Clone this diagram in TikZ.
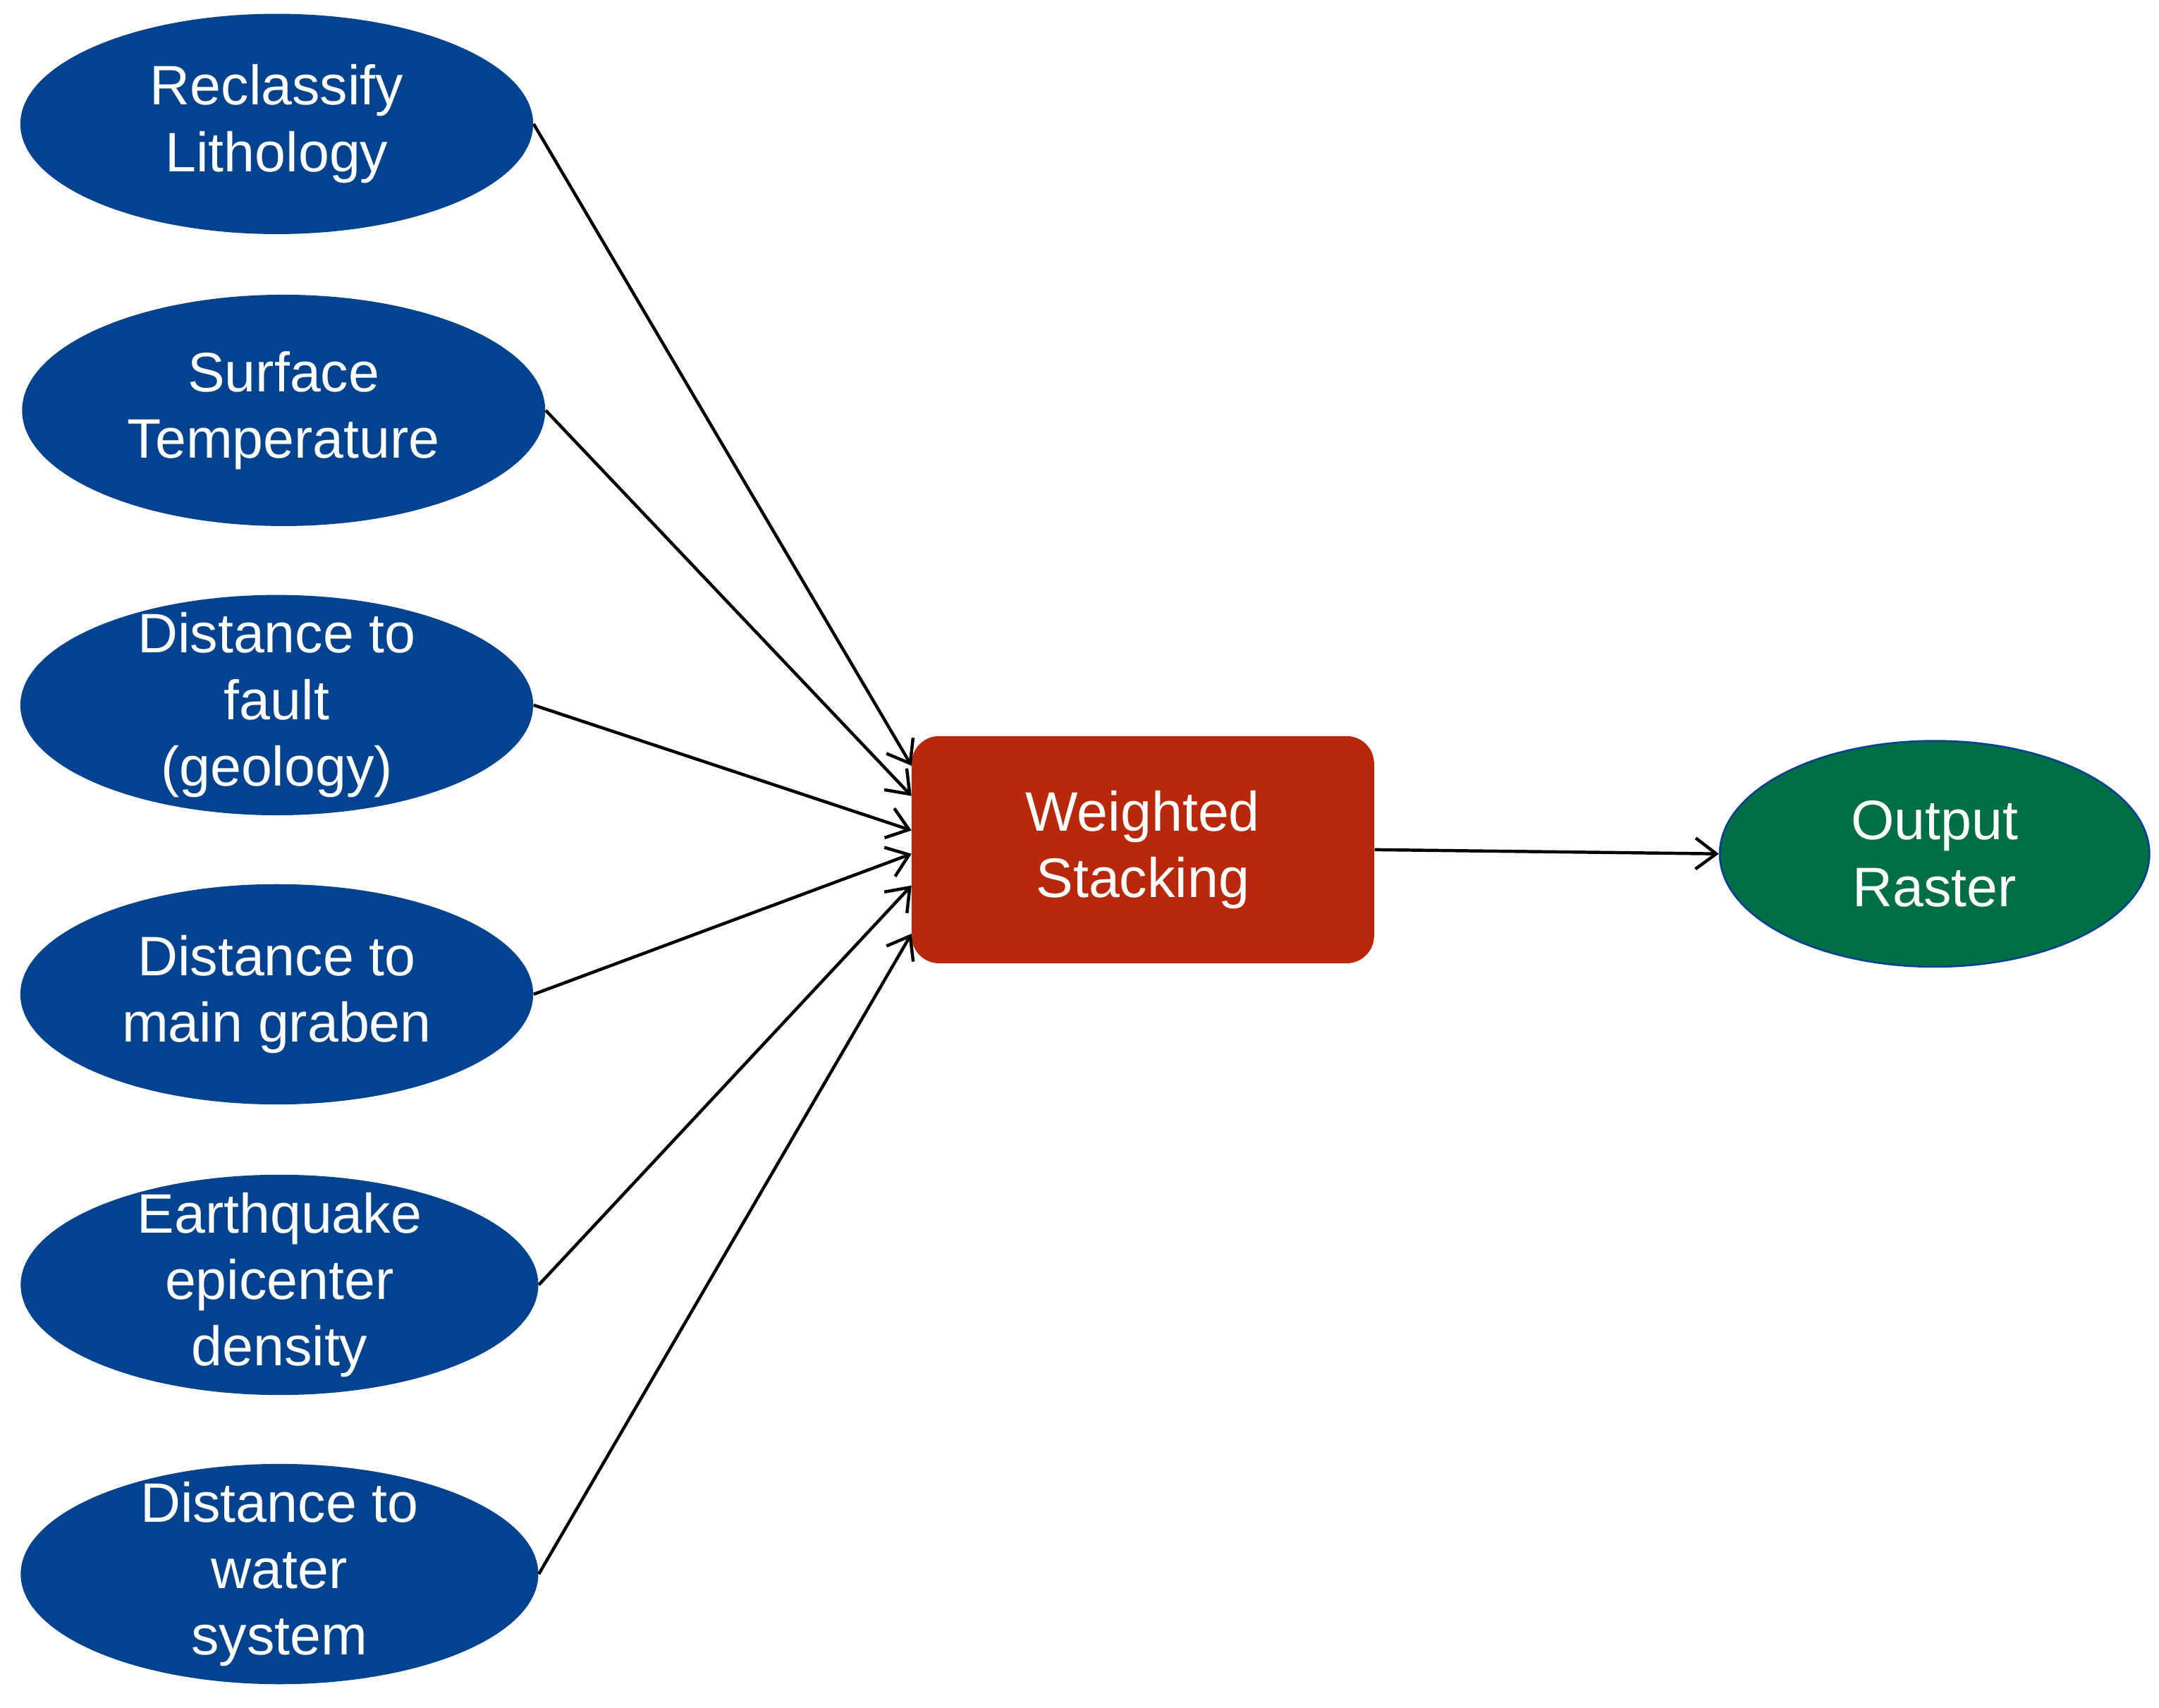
\documentclass[tikz,border=0pt]{standalone}
\usepackage{fontspec}
\setmainfont{Liberation Sans}
\usetikzlibrary{shapes.geometric,arrows.meta,positioning}
\definecolor{inblue}{HTML}{03428E}
\definecolor{stackred}{HTML}{B9280A}
\definecolor{outgreen}{HTML}{006F45}
\tikzset{
  factor/.style={ellipse, fill=inblue, text=white, align=center, inner xsep=0pt, inner ysep=-1.2cm,
    minimum width=7.45cm, minimum height=3.2cm, font=\fontsize{23}{27.5}\selectfont},
  stack/.style={rectangle, rounded corners=0.4cm, fill=stackred, text=white, align=center,
    minimum width=6.72cm, minimum height=3.3cm, font=\fontsize{23}{27.5}\selectfont},
  result/.style={ellipse, fill=outgreen, draw=inblue, line width=0.8pt, text=white, align=center,
    inner sep=0pt, minimum width=6.24cm, minimum height=3.28cm, font=\fontsize{23}{27.5}\selectfont},
  link/.style={-{Straight Barb[length=0.3cm,width=0.45cm]}, line width=1.3pt}
}
\begin{document}
\begin{tikzpicture}[x=0.02cm,y=-0.02cm]
\useasboundingbox (0,0) rectangle (1568,1240);
% input factors
\node[factor] (litho) at (201,90) {Reclassify\\Lithology};
\node[factor, minimum width=7.6cm, minimum height=3.36cm] (temp) at (206,298) {Surface\\Temperature};
\node[factor] (fault) at (201,512) {Distance to\\fault\\(geology)};
\node[factor] (graben) at (201,722) {Distance to\\main graben};
\node[factor, minimum width=7.52cm] (quake) at (203,933) {Earthquake\\epicenter\\density};
\node[factor, minimum width=7.52cm] (water) at (203,1143) {Distance to\\water\\system};
% stacking and output
\node[stack] (wstack) at (830,617) {Weighted\\Stacking};
\node[result] (raster) at (1405,620) {Output\\Raster};
% arrow ends on the box
\coordinate (in1) at (662,556);
\coordinate (in2) at (662,578);
\coordinate (in3) at (662,603);
\coordinate (in4) at (662,620);
\coordinate (in5) at (662,643);
\coordinate (in6) at (662,678);
\draw[link] (litho.east) -- (in1);
\draw[link] (temp.east) -- (in2);
\draw[link] (fault.east) -- (in3);
\draw[link] (graben.east) -- (in4);
\draw[link] (quake.east) -- (in5);
\draw[link] (water.east) -- (in6);
\draw[link] (wstack.east) -- (raster.west);
\end{tikzpicture}
\end{document}
